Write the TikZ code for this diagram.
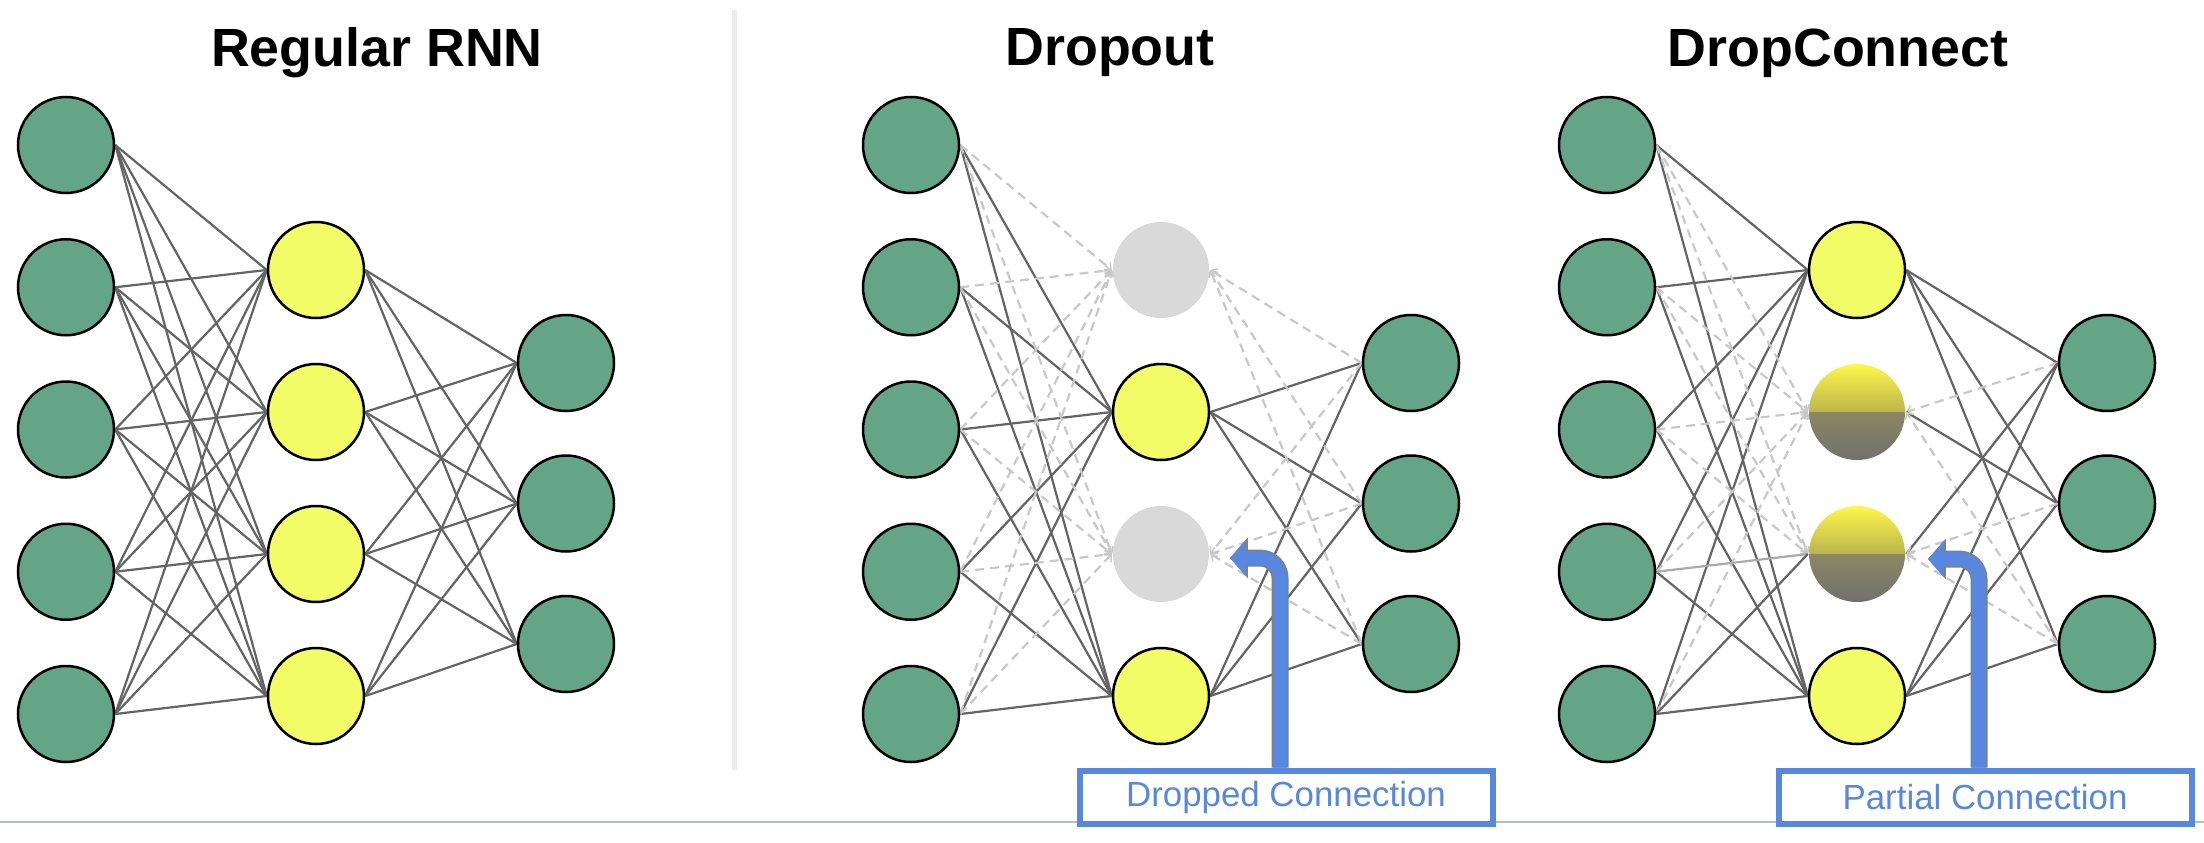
\documentclass[tikz,border=0pt]{standalone}
\usepackage{fontspec}
\setmainfont{Liberation Sans}
\usetikzlibrary{arrows.meta,backgrounds}

\newlength{\du}
\setlength{\du}{1bp}

\definecolor{unitgreen}{RGB}{100,165,135}
\definecolor{unityellow}{RGB}{242,252,102}
\definecolor{unitdropped}{RGB}{217,217,217}
\definecolor{edgegray}{RGB}{100,100,100}
\definecolor{dashgray}{RGB}{200,200,200}
\definecolor{calloutblue}{RGB}{88,136,222}
\definecolor{rulegray}{RGB}{180,190,200}

\pgfdeclareverticalshading{partialshade}{100bp}{%
  rgb(0bp)=(0.44,0.44,0.44); rgb(25bp)=(0.44,0.44,0.44);
  rgb(50bp)=(0.55,0.53,0.38); rgb(50.1bp)=(0.73,0.71,0.30);
  rgb(75bp)=(1.00,0.97,0.29); rgb(100bp)=(1.00,0.97,0.29)}

\tikzset{
  unit/.style={circle, minimum size=96\du, inner sep=0pt, line width=2.5\du},
  innode/.style={unit, draw=black, fill=unitgreen},
  hidnode/.style={unit, draw=black, fill=unityellow},
  dropnode/.style={unit, fill=unitdropped},
  partnode/.style={unit, shading=partialshade},
  link/.style={draw=edgegray, line width=2.2\du},
  lightlink/.style={draw=dashgray!85!black, line width=2.2\du},
  droplink/.style={draw=dashgray, line width=2.2\du, dash pattern=on 9\du off 6\du,
    -{Straight Barb[length=5pt,width=10pt,line width=1.5pt]}},
  paneltitle/.style={font=\bfseries\fontsize{54}{60}\selectfont},
  callbox/.style={draw=calloutblue, line width=6\du, fill=white, text=calloutblue,
    minimum width=413\du, minimum height=53\du, inner sep=0pt,
    font=\fontsize{35}{40}\selectfont},
  callarrow/.style={draw=calloutblue, line width=14\du, rounded corners=20\du,
    -{Triangle[length=16pt,width=36pt]},
    preaction={draw=gray, line width=17\du, rounded corners=20\du, -{Triangle[length=18pt,width=40pt]}}}
}

% input and output columns of one panel, #1 = name prefix, #2 = x offset
\newcommand{\sidelayers}[2]{%
  \foreach \k in {1,...,5}
    \node[innode] (#1i\k) at ({#2+66},{145+142.25*(\k-1)}) {};
  \foreach \k in {1,...,3}
    \node[innode] (#1o\k) at ({#2+566},{363+140.5*(\k-1)}) {};
}

\begin{document}
\begin{tikzpicture}[x=1\du,y=-1\du]
\useasboundingbox (0,0) rectangle (2204,842);

% rules
\draw[rulegray, line width=2\du] (0,822) -- (2204,822);
\draw[gray!15, line width=5\du] (734,10) -- (734,770);

% titles
\node[paneltitle] (treg) at (377,53) {Regular RNN};
\node[paneltitle] (tdrop) at (1110,53) {Dropout};
\node[paneltitle] (tcon) at (1838,53) {DropConnect};

% regular
\sidelayers{r}{0}
\foreach \k in {1,...,4}
  \node[hidnode] (rh\k) at (316,{270+142*(\k-1)}) {};

% dropout
\sidelayers{d}{845}
\node[dropnode] (dh1) at (1161,270) {};
\node[hidnode] (dh2) at (1161,412) {};
\node[dropnode] (dh3) at (1161,554) {};
\node[hidnode] (dh4) at (1161,696) {};

% dropconnect
\sidelayers{c}{1541}
\node[hidnode] (ch1) at (1857,270) {};
\node[partnode] (ch2) at (1857,412) {};
\node[partnode] (ch3) at (1857,554) {};
\node[hidnode] (ch4) at (1857,696) {};

\begin{scope}[on background layer]
% regular: full connections
\foreach \h in {1,...,4} {
  \foreach \i in {1,...,5} \draw[link] (ri\i.east) -- (rh\h.west);
  \foreach \o in {1,...,3} \draw[link] (rh\h.east) -- (ro\o.west);
}
% dropout: dropped units lose every link
\foreach \h in {2,4} {
  \foreach \i in {1,...,5} \draw[link] (di\i.east) -- (dh\h.west);
  \foreach \o in {1,...,3} \draw[link] (dh\h.east) -- (do\o.west);
}
\foreach \h in {1,3} {
  \foreach \i in {1,...,5} \draw[droplink] (di\i.east) -- (dh\h.west);
  \foreach \o in {1,...,3} \draw[droplink] (do\o.west) -- (dh\h.east);
}
% dropconnect: single links dropped
\foreach \h in {1,4} {
  \foreach \i in {1,...,5} \draw[link] (ci\i.east) -- (ch\h.west);
  \foreach \o in {1,...,3} \draw[link] (ch\h.east) -- (co\o.west);
}
\foreach \i in {1,...,5} \draw[droplink] (ci\i.east) -- (ch2.west);
\draw[droplink] (co1.west) -- (ch2.east);
\draw[link] (ch2.east) -- (co2.west);
\draw[droplink] (co3.west) -- (ch2.east);
\foreach \i in {1,...,3} \draw[droplink] (ci\i.east) -- (ch3.west);
\draw[lightlink] (ci4.east) -- (ch3.west);
\draw[link] (ci5.east) -- (ch3.west);
\draw[link] (ch3.east) -- (co1.west);
\draw[droplink] (co2.west) -- (ch3.east);
\draw[droplink] (co3.west) -- (ch3.east);
\end{scope}

% callouts
\node[callbox] (dbox) at (1286,797) {Dropped Connection};
\coordinate (dtip) at (1230,558);
\draw[callarrow] (dbox.north -| 1280,0) |- (dtip);

\node[callbox] (cbox) at (1985,797) {Partial Connection};
\coordinate (ctip) at (1928,559);
\draw[callarrow] (cbox.north -| 1979,0) |- (ctip);
\end{tikzpicture}
\end{document}
